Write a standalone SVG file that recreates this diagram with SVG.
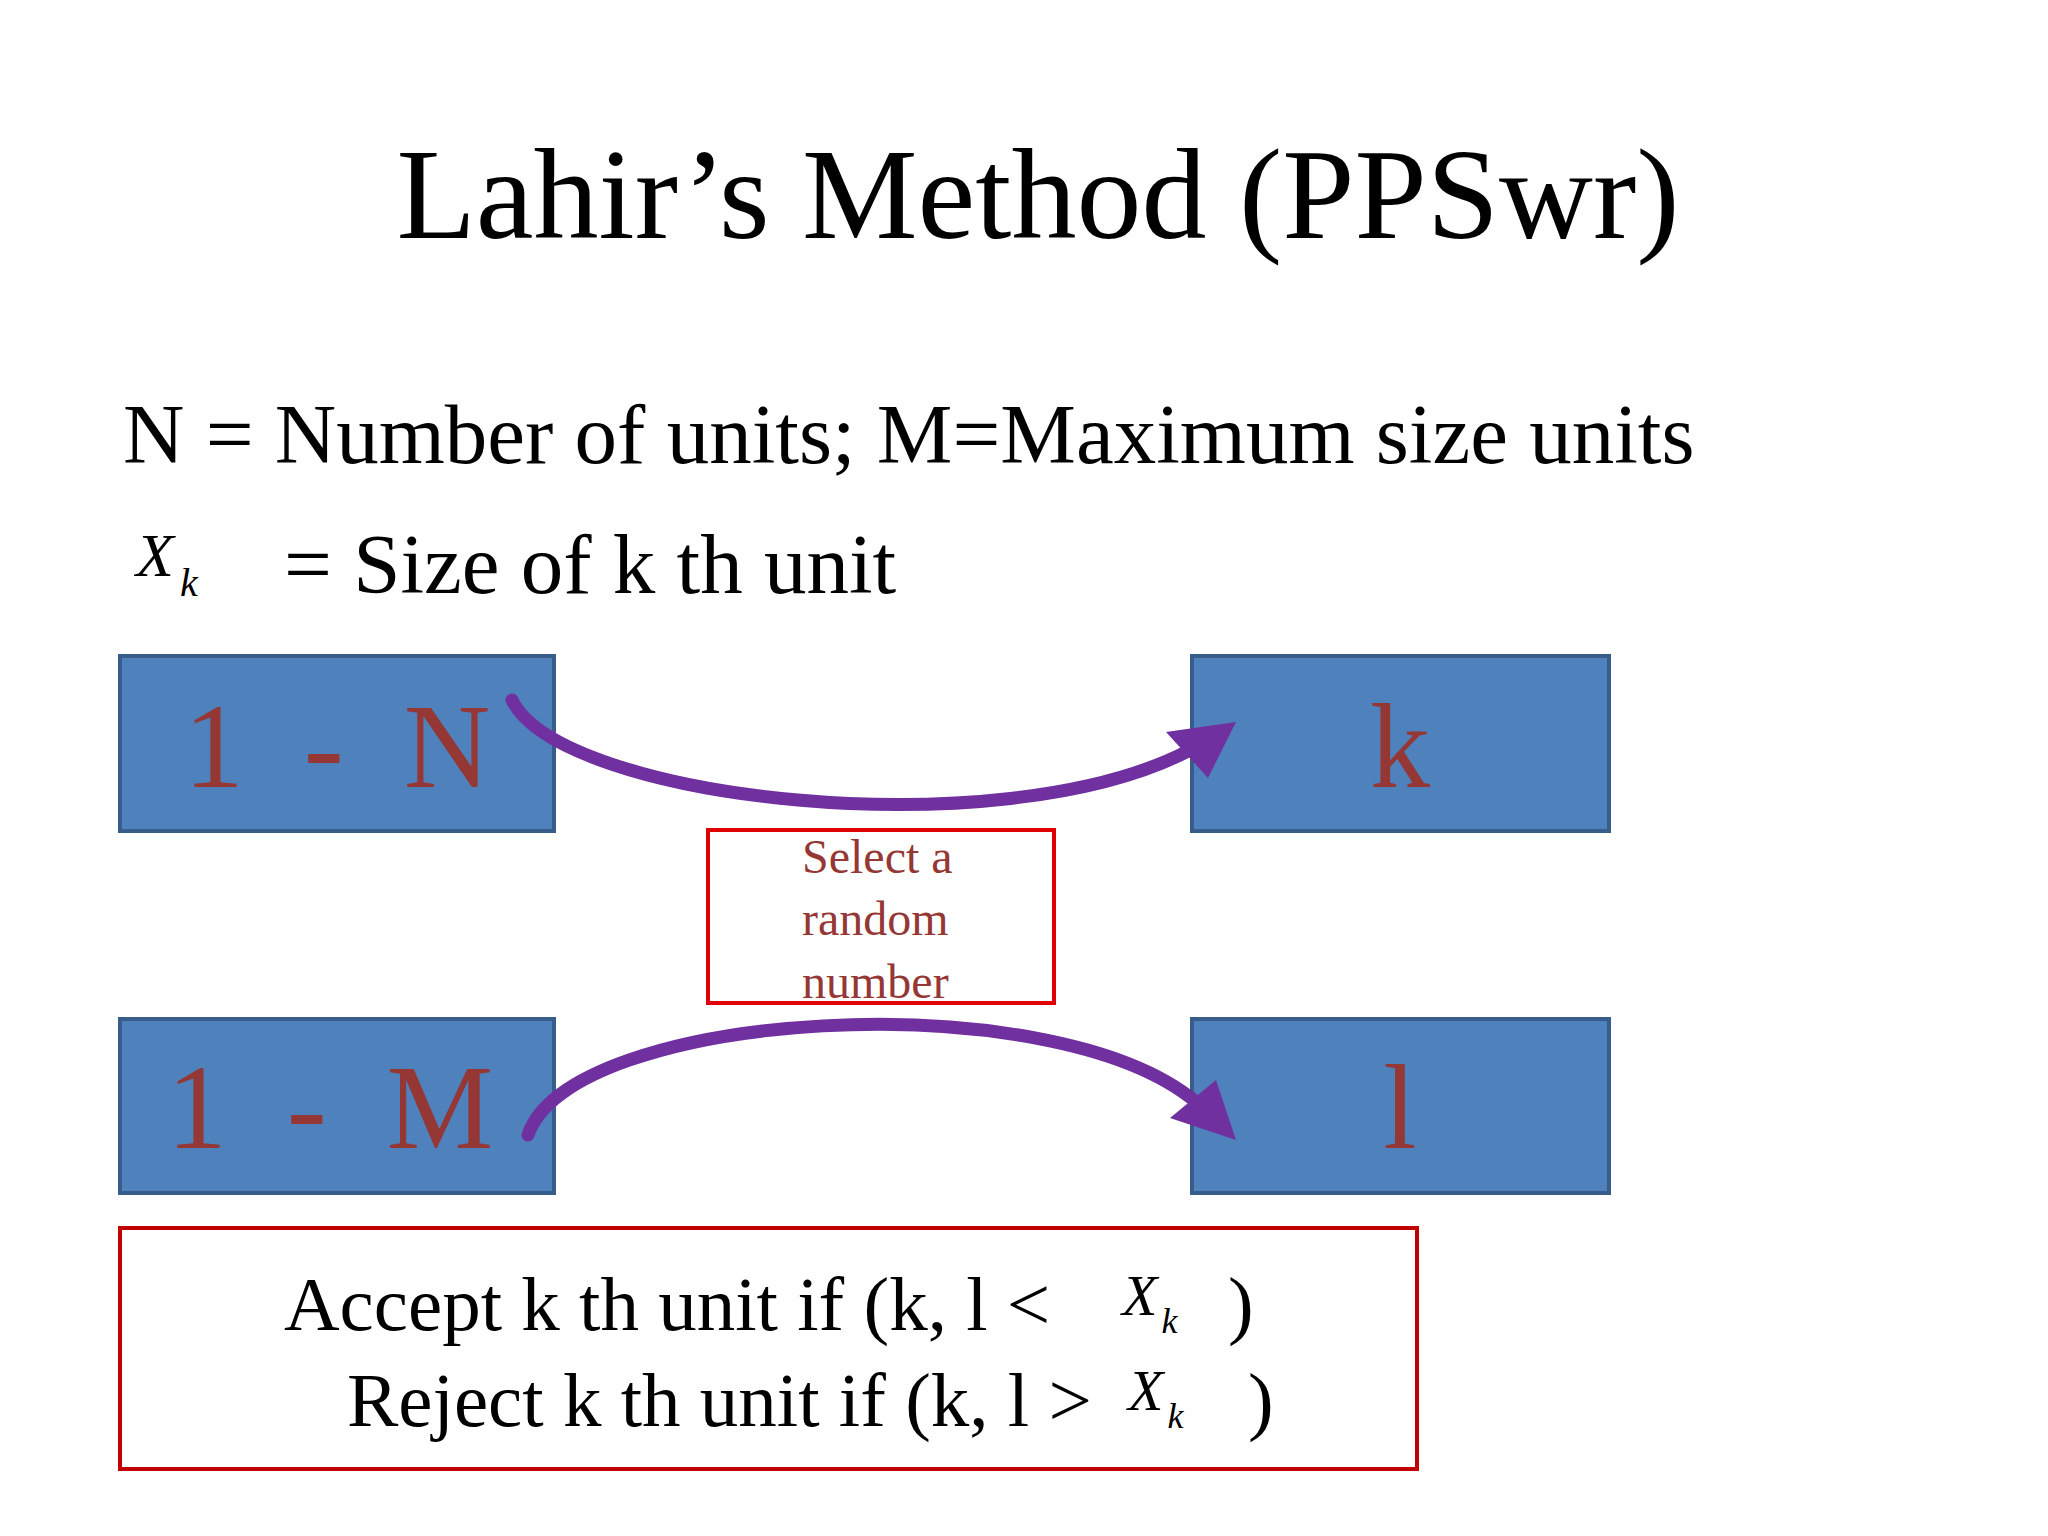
<svg xmlns="http://www.w3.org/2000/svg" width="2048" height="1536" viewBox="0 0 2048 1536">
<style>
.t{font-family:"Liberation Serif","Times New Roman",serif;fill:#000}
.bx{fill:#4f81bd;stroke:#385d8a;stroke-width:4}
.bt{font-family:"Liberation Serif",serif;fill:#953735;font-size:120px;text-anchor:middle}
.arc{fill:none;stroke:#7030a0;stroke-width:13;stroke-linecap:round}
.hd{fill:#7030a0}
.sm{font-family:"Liberation Serif",serif;fill:#953735;font-size:48px}
</style>
<rect width="2048" height="1536" fill="#fff"/>
<text class="t" x="1038" y="238" font-size="130" text-anchor="middle">Lahir’s Method (PPSwr)</text>
<text class="t" x="123" y="463" font-size="85">N = Number of units; M=Maximum size units</text>
<text class="t" x="136" y="576" font-size="62" font-style="italic">X<tspan font-size="40" dx="6" dy="20">k</tspan></text>
<text class="t" x="284" y="593" font-size="85">= Size of k th unit</text>
<g id="n1"><rect class="bx" x="120" y="656" width="434" height="175"/><text class="bt" x="337" y="787" xml:space="preserve">1  -  N</text></g>
<g id="n2"><rect class="bx" x="1192" y="656" width="417" height="175"/><text class="bt" x="1400" y="787">k</text></g>
<g id="n3"><rect class="bx" x="120" y="1019" width="434" height="174"/><text class="bt" x="330" y="1148" xml:space="preserve">1  -  M</text></g>
<g id="n4"><rect class="bx" x="1192" y="1019" width="417" height="174"/><text class="bt" x="1400" y="1148">l</text></g>
<g id="lbl"><rect x="708" y="830" width="346" height="173" fill="none" stroke="#e00000" stroke-width="4"/>
<text class="sm" x="802" y="873">Select a</text><text class="sm" x="802" y="935">random</text><text class="sm" x="802" y="998">number</text></g>
<g id="connectors">
<path class="arc" d="M512,700 C560,800 1000,850 1190,750"/>
<polygon class="hd" points="1236,722 1166,732 1208,778"/>
<path class="arc" d="M528,1135 C570,1010 1050,980 1196,1102"/>
<polygon class="hd" points="1236,1140 1170,1118 1216,1080"/>
</g>
<g id="cond"><rect x="120" y="1228" width="1297" height="241" fill="none" stroke="#c00000" stroke-width="4"/>
<text class="t" x="284" y="1330" font-size="77">Accept k th unit if  (k, l &lt;</text>
<text class="t" x="1122" y="1315" font-size="58" font-style="italic">X<tspan font-size="36" dx="4" dy="18">k</tspan></text>
<text class="t" x="1228" y="1330" font-size="77">)</text>
<text class="t" x="347" y="1426" font-size="77">Reject k th unit if (k, l &gt;</text>
<text class="t" x="1128" y="1410" font-size="58" font-style="italic">X<tspan font-size="36" dx="4" dy="18">k</tspan></text>
<text class="t" x="1248" y="1426" font-size="77">)</text></g>
</svg>
